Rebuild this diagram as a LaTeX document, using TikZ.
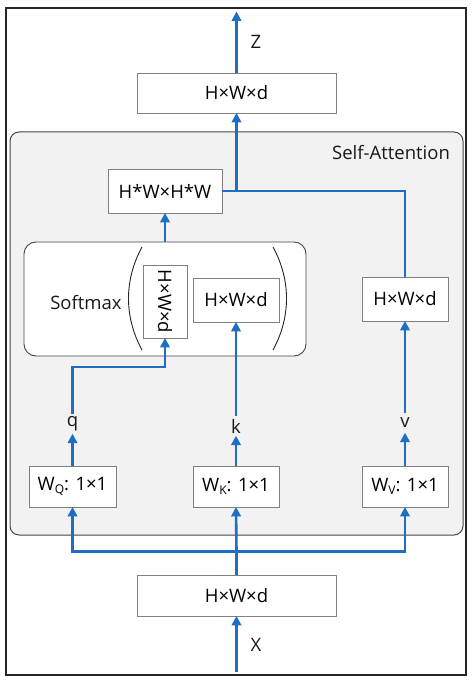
\documentclass[tikz,border=0pt]{standalone}
\usepackage{fontspec}
\setmainfont{Open Sans}
\usetikzlibrary{arrows.meta}
\definecolor{flow}{RGB}{30,110,195}
\definecolor{boxline}{RGB}{128,128,128}
\definecolor{grayfill}{RGB}{242,242,242}
\definecolor{grayline}{RGB}{70,70,70}
\tikzset{
  txt/.style={font=\fontsize{18.5}{22}\selectfont, text=black!90, inner sep=0pt},
  blk/.style={draw=boxline, line width=0.9pt, fill=white, font=\fontsize{18.5}{22}\selectfont, inner sep=0pt},
  flowline/.style={draw=flow, line width=2.6pt},
  flowarrow/.style={flowline, -{Triangle[length=9.5pt,width=9.5pt]}, shorten >=-0.5pt},
}
\newcommand{\sbq}[1]{\raisebox{-2.5pt}{\fontsize{12}{12}\selectfont #1}}
\begin{document}
\begin{tikzpicture}[x=1pt,y=-1pt]
\useasboundingbox (0,0) rectangle (474,684);
% outer frame
\draw[line width=1.6pt, draw=black!85] (6,8) rectangle (466,675);
% self-attention container
\draw[draw=grayline, line width=1pt, fill=grayfill, rounded corners=9pt] (10,132) rectangle (463,535);
\node[txt] (sa) at (391,153) {Self-Attention};
% softmax container
\node[draw=grayline, line width=0.9pt, fill=white, rounded corners=12pt, minimum width=282pt, minimum height=114pt, inner sep=0pt] (smx) at (165,299) {};
\node[txt] (smlabel) at (86,303) {Softmax};
\draw[line width=0.9pt, draw=black!85] (142,247) .. controls (124,280) and (124,317) .. (142,350);
\draw[line width=0.9pt, draw=black!85] (273,247) .. controls (291,280) and (291,317) .. (273,350);
% boxes
\node[blk, minimum width=199pt, minimum height=40pt] (top) at (236.5,93) {H×W×d};
\node[blk, minimum width=199pt, minimum height=41pt] (bot) at (236.5,595.5) {H×W×d};
\node[blk, minimum width=114pt, minimum height=44pt] (hw) at (165,191) {H*W×H*W};
\node[blk, minimum width=44pt, minimum height=73pt] (rot) at (165,301.5) {\rotatebox{-90}{H×W×d}};
\node[blk, minimum width=86pt, minimum height=44pt] (kin) at (236,300) {H×W×d};
\node[blk, minimum width=86pt, minimum height=44pt] (vin) at (405,299) {H×W×d};
\node[blk, minimum width=87pt, minimum height=41pt] (wq) at (72.5,486.5) {W\sbq{Q}: 1×1};
\node[blk, minimum width=86pt, minimum height=41pt] (wk) at (236,486.5) {W\sbq{K}: 1×1};
\node[blk, minimum width=86pt, minimum height=41pt] (wv) at (405,486.5) {W\sbq{V}: 1×1};
% labels
\node[txt] (z) at (256,42) {Z};
\node[txt] (x) at (256,645) {X};
\node[txt, minimum height=20pt] (q) at (72.5,424) {q};
\node[txt, minimum height=20pt] (k) at (236,426) {k};
\node[txt, minimum height=20pt] (v) at (405,423) {v};
% coordinates
\coordinate (ztip) at (236.5,12);
\coordinate (xstart) at (236.5,672);
\coordinate (split) at (236.5,551.5);
\coordinate (qbend) at (72.5,367);
% connectors
\draw[flowarrow] (top.north) -- (ztip);
\draw[flowline] (hw.east) -| (vin.north);
\draw[flowarrow] (hw.east -| top.south) -- (top.south);
\draw[flowarrow] (smx.north -| hw.south) -- (hw.south);
\draw[flowarrow] (q.north) -- (qbend) -| (rot.south);
\draw[flowarrow] (k.north) -- (kin.south);
\draw[flowarrow] (v.north) -- (vin.south);
\draw[flowarrow] (wq.north) -- (q.south);
\draw[flowarrow] (wk.north) -- (k.south);
\draw[flowarrow] (wv.north) -- (v.south);
\draw[flowline] (bot.north) -- (split);
\draw[flowarrow] (split) -- (wk.south);
\draw[flowarrow] (split) -| (wq.south);
\draw[flowarrow] (split) -| (wv.south);
\draw[flowarrow] (xstart) -- (bot.south);
\end{tikzpicture}
\end{document}
